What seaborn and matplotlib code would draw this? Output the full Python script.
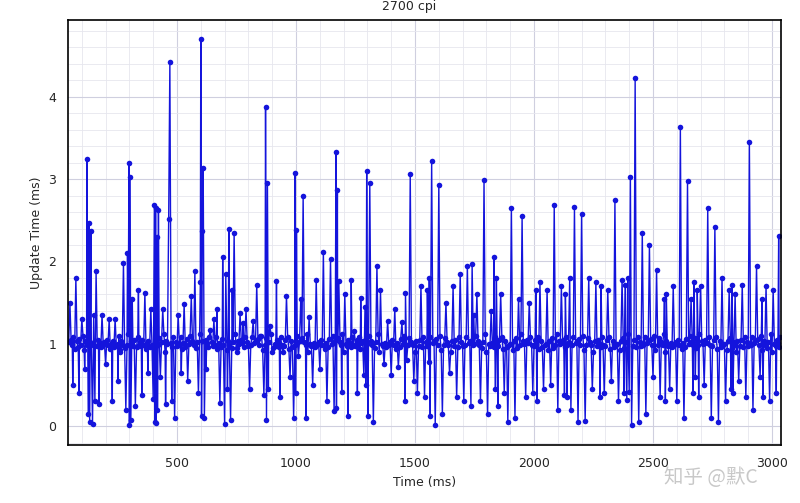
import numpy as np
import pandas as pd
import matplotlib
matplotlib.use("Agg")
import matplotlib.pyplot as plt
import seaborn as sns
from matplotlib.ticker import MultipleLocator

# spike samples (time ms, update time ms)
spike_t = [50,62,75,88,100,112,122,128,130,133,138,145,150,155,160,172,185,200,215,228,240,252,262,275,285,292,298,300,303,306,312,325,338,352,365,378,390,400,405,408,410,412,415,418,422,430,440,452,465,470,478,490,505,518,530,545,560,575,590,598,600,603,606,610,615,622,640,655,668,680,692,700,705,712,718,725,732,740,752,765,778,790,805,820,835,850,865,872,876,880,884,890,905,918,932,945,960,975,990,996,998,1002,1010,1020,1030,1042,1055,1070,1085,1100,1115,1130,1145,1160,1168,1170,1174,1180,1192,1205,1218,1232,1245,1258,1272,1285,1290,1293,1297,1302,1310,1325,1340,1355,1370,1385,1400,1415,1430,1445,1458,1460,1465,1480,1495,1510,1525,1540,1552,1558,1560,1564,1570,1585,1600,1615,1630,1645,1660,1675,1690,1705,1720,1735,1740,1746,1760,1775,1790,1805,1820,1832,1838,1842,1848,1860,1875,1890,1905,1920,1935,1950,1965,1980,1995,2008,2012,2025,2040,2055,2070,2085,2100,2115,2128,2132,2138,2150,2155,2170,2185,2200,2215,2230,2245,2260,2278,2282,2295,2310,2325,2340,2355,2370,2378,2384,2390,2394,2400,2405,2410,2425,2440,2455,2470,2485,2500,2515,2530,2548,2552,2556,2570,2585,2600,2615,2630,2645,2660,2668,2672,2678,2686,2692,2700,2715,2730,2745,2760,2775,2790,2805,2820,2828,2832,2836,2845,2860,2875,2890,2905,2920,2935,2950,2958,2962,2975,2990,3005,3018,3028]
spike_v = [1.5,0.5,1.8,0.4,1.3,0.7,3.25,0.15,2.47,0.05,2.37,0.03,1.35,0.3,1.88,0.27,1.35,0.75,1.3,0.3,1.3,0.55,0.9,1.98,0.2,2.1,3.2,0.02,3.02,0.08,1.55,0.25,1.65,0.38,1.62,0.65,1.42,0.33,2.68,0.05,2.65,0.04,2.3,0.2,2.62,0.6,1.42,0.27,2.52,4.42,0.3,0.1,1.35,0.65,1.48,0.55,1.58,1.88,0.4,1.75,4.7,0.12,2.37,3.14,0.1,0.7,1.17,1.3,1.42,0.28,2.05,0.03,1.85,0.45,2.4,0.08,1.65,2.35,0.95,1.37,1.25,1.42,0.45,1.28,1.72,1.1,0.38,3.87,0.07,2.95,0.45,1.22,0.95,1.76,0.35,0.9,1.58,0.6,0.1,3.08,0.4,2.38,0.85,1.55,2.8,0.1,1.32,0.5,1.78,0.7,2.12,0.3,2.03,0.18,3.33,0.22,2.87,1.76,0.42,1.6,0.13,1.78,1.15,0.4,1.56,0.62,1.45,0.5,3.1,0.12,2.95,0.05,1.95,1.65,0.75,1.28,0.62,1.42,0.72,1.26,0.3,1.62,0.8,3.06,0.55,0.4,1.7,0.35,1.65,0.78,1.8,0.12,3.22,0.02,2.93,0.15,1.5,0.65,1.7,0.35,1.85,0.3,1.95,0.25,1.97,1.35,1.6,0.3,2.99,0.15,1.4,2.05,0.45,1.8,0.25,1.6,0.4,0.05,2.65,0.1,1.55,2.55,0.35,1.5,0.4,1.65,0.3,1.75,0.45,1.65,0.5,2.68,0.2,1.7,0.38,1.6,0.35,1.8,0.2,2.66,0.05,2.58,0.06,1.8,0.45,1.75,0.35,1.7,0.4,1.65,0.55,2.75,0.3,1.78,0.4,1.72,0.32,1.8,0.42,3.03,0.02,4.23,0.05,2.35,0.15,2.2,0.6,1.9,0.35,1.55,0.3,1.6,0.45,1.7,0.3,3.63,0.1,2.98,1.55,0.4,1.75,0.6,1.65,0.35,1.7,0.5,2.65,0.1,2.42,0.05,1.8,0.3,1.65,0.45,1.72,0.4,1.6,0.55,1.72,0.35,3.45,0.2,1.95,0.6,1.55,0.35,1.7,0.3,1.65,0.4,2.31,0.2,2.26,0.7,1.62,0.7,1.9]

# jitter of the dense band around 1 ms (cycled over base samples)
band_v = [1.02,0.97,1.05,0.99,1.08,0.94,1.01,1.03,0.96,1.06,0.98,1.0,1.1,0.92,1.04,0.99,1.07,0.95,1.02,0.98,1.12,0.9,1.03,1.0,0.97,1.05,1.01,0.96,1.08,0.99]
base_t = list(range(45, 3040, 5))

spike_set = set(spike_t)
rows = [(t, v) for t, v in zip(spike_t, spike_v)]
for i, t in enumerate(base_t):
    if t not in spike_set:
        rows.append((t, band_v[i % len(band_v)]))
df = pd.DataFrame(rows, columns=["t", "v"]).sort_values("t")

sns.set_style("white")
fig = plt.figure(figsize=(8.0, 5.03), dpi=100)
ax = fig.add_axes([0.085, 0.115, 0.891, 0.845])
sns.lineplot(data=df, x="t", y="v", ax=ax, color="#1414dc", lw=1.0,
             marker="o", markersize=4, markeredgewidth=0, estimator=None, sort=False)
ax.set_xlim(42, 3037)
ax.set_ylim(-0.23, 4.93)
ax.xaxis.set_major_locator(MultipleLocator(500))
ax.xaxis.set_minor_locator(MultipleLocator(100))
ax.yaxis.set_major_locator(MultipleLocator(1))
ax.yaxis.set_minor_locator(MultipleLocator(0.2))
ax.grid(True, which="major", color="#cfcfdf", lw=0.8)
ax.grid(True, which="minor", color="#e6e6ee", lw=0.6)
ax.set_axisbelow(True)
ax.tick_params(which="major", direction="out", length=5, color="black", labelsize=9)
ax.tick_params(which="minor", direction="out", length=3, color="black")
for s in ax.spines.values():
    s.set_color("black"); s.set_linewidth(1.2)
ax.set_xlabel("Time (ms)", fontsize=9)
ax.set_ylabel("Update Time (ms)", fontsize=9)
fig.text(0.512, 0.988, "2700 cpi", ha="center", va="center", fontsize=9)
fig.text(0.83, 0.03, "知乎 @默C", fontsize=14, color="#bbbbbb", alpha=0.8,
         ha="left", va="bottom", fontfamily=["Noto Sans CJK SC", "Noto Sans CJK JP"])
fig.savefig("out.png", dpi=100)
